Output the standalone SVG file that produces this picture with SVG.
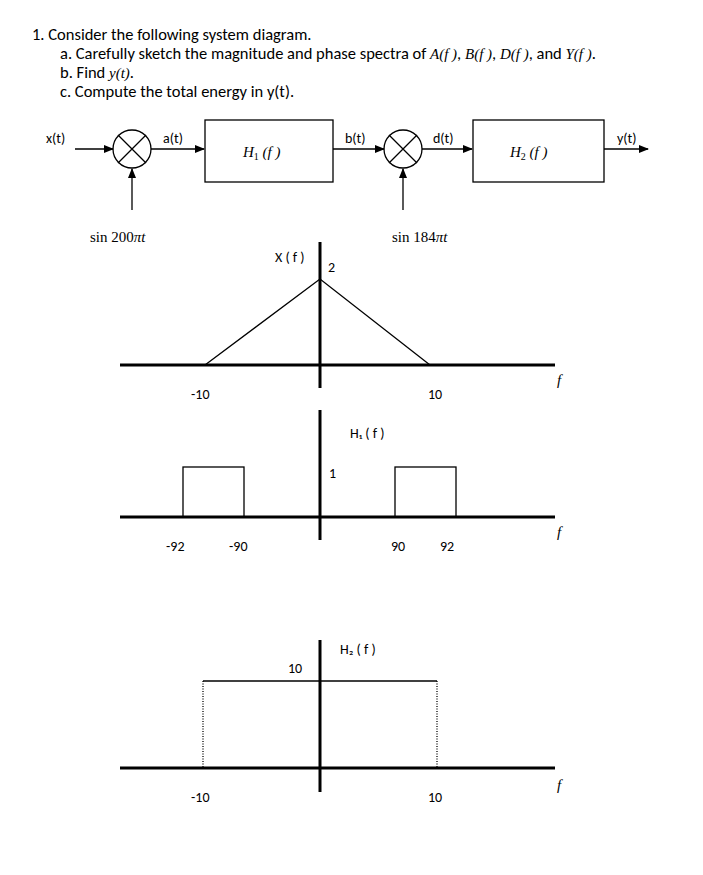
<svg xmlns="http://www.w3.org/2000/svg" width="703" height="875" viewBox="0 0 703 875">
<defs><marker id="ar" markerWidth="10" markerHeight="8" refX="9" refY="4" orient="auto" markerUnits="userSpaceOnUse"><path d="M0,0 L10,4 L0,8 z" fill="#000"/></marker>
<style>.t{font-family:Carlito,"Liberation Sans",sans-serif;font-size:14px}.q{font-family:Carlito,"Liberation Sans",sans-serif;font-size:16.5px}.m{font-family:"Liberation Serif",serif;font-style:italic;font-size:15px}.l{stroke:#000;stroke-width:1.3;fill:none}.ax{stroke:#000;stroke-width:3;fill:none}</style></defs>
<rect width="703" height="875" fill="#fff"/>
<g id="question" class="q">
<text x="32" y="40">1.  Consider the following system diagram.</text>
<text x="60" y="59">a.  Carefully sketch the magnitude and phase spectra of <tspan class="m" font-size="16">A(f )</tspan>, <tspan class="m" font-size="16">B(f )</tspan>, <tspan class="m" font-size="16">D(f )</tspan>, and <tspan class="m" font-size="16">Y(f )</tspan>.</text>
<text x="60" y="78">b.  Find <tspan class="m" font-size="16">y(t)</tspan>.</text>
<text x="60" y="97">c.  Compute the total energy in y(t).</text>
</g>
<g id="mixer1"><circle cx="132" cy="149" r="19" class="l"/><path d="M118,135 L146,163 M146,135 L118,163" class="l"/></g>
<g id="H1box"><rect x="205" y="120" width="128" height="62" class="l"/><text x="243" y="157" class="m">H<tspan font-size="10" dy="3" style="font-style:normal">1</tspan><tspan dy="-3"> (f )</tspan></text></g>
<g id="mixer2"><circle cx="403" cy="149" r="19" class="l"/><path d="M389,135 L417,163 M417,135 L389,163" class="l"/></g>
<g id="H2box"><rect x="473" y="120" width="131" height="62" class="l"/><text x="510" y="157" class="m">H<tspan font-size="10" dy="3" style="font-style:normal">2</tspan><tspan dy="-3"> (f )</tspan></text></g>
<g id="connectors" class="l" marker-end="url(#ar)">
<path d="M75,149 L113,149"/><path d="M151,149 L204,149"/><path d="M132,210 L132,169"/>
<path d="M333,149 L384,149"/><path d="M422,149 L472,149"/><path d="M403,210 L403,169"/><path d="M604,149 L648,149"/>
</g>
<g id="labels" class="t">
<text x="46" y="143">x(t)</text><text x="163" y="143">a(t)</text><text x="345" y="143">b(t)</text><text x="433" y="143">d(t)</text><text x="617" y="143">y(t)</text>
<text x="90" y="242" style="font-family:'Liberation Serif',serif;font-size:15px">sin 200<tspan font-style="italic">πt</tspan></text>
<text x="392" y="242" style="font-family:'Liberation Serif',serif;font-size:15px">sin 184<tspan font-style="italic">πt</tspan></text>
</g>
<g id="graphX">
<path d="M120,365 L555,365 M320,242 L320,388" class="ax"/>
<path d="M205,365 L320,279 L430,365" class="l" stroke-width="1"/>
<text x="275" y="262" class="t">X ( f )</text><text x="328" y="272" class="t">2</text>
<text x="191" y="399" class="t">-10</text><text x="428" y="399" class="t">10</text><text x="557" y="385" class="m">f</text>
</g>
<g id="graphH1">
<path d="M120,517 L555,517 M320,410 L320,540" class="ax"/>
<rect x="183" y="467" width="61" height="50" class="l" stroke-width="1"/><rect x="395" y="467" width="61" height="50" class="l" stroke-width="1"/>
<text x="350" y="438" class="t">H₁ ( f )</text><text x="329" y="478" class="t">1</text>
<text x="166" y="551" class="t">-92</text><text x="229" y="551" class="t">-90</text><text x="391" y="551" class="t">90</text><text x="440" y="551" class="t">92</text><text x="557" y="537" class="m">f</text>
</g>
<g id="graphH2">
<path d="M120,768 L555,768 M320,640 L320,792" class="ax"/>
<path d="M203,681 L437,681" class="l" stroke-width="1.5"/>
<path d="M203,681 L203,768 M437,681 L437,768" class="l" stroke-width="1" stroke-dasharray="1,1.5"/>
<text x="340" y="654" class="t">H₂ ( f )</text><text x="288" y="673" class="t">10</text>
<text x="191" y="802" class="t">-10</text><text x="428" y="802" class="t">10</text><text x="557" y="790" class="m">f</text>
</g>
</svg>
